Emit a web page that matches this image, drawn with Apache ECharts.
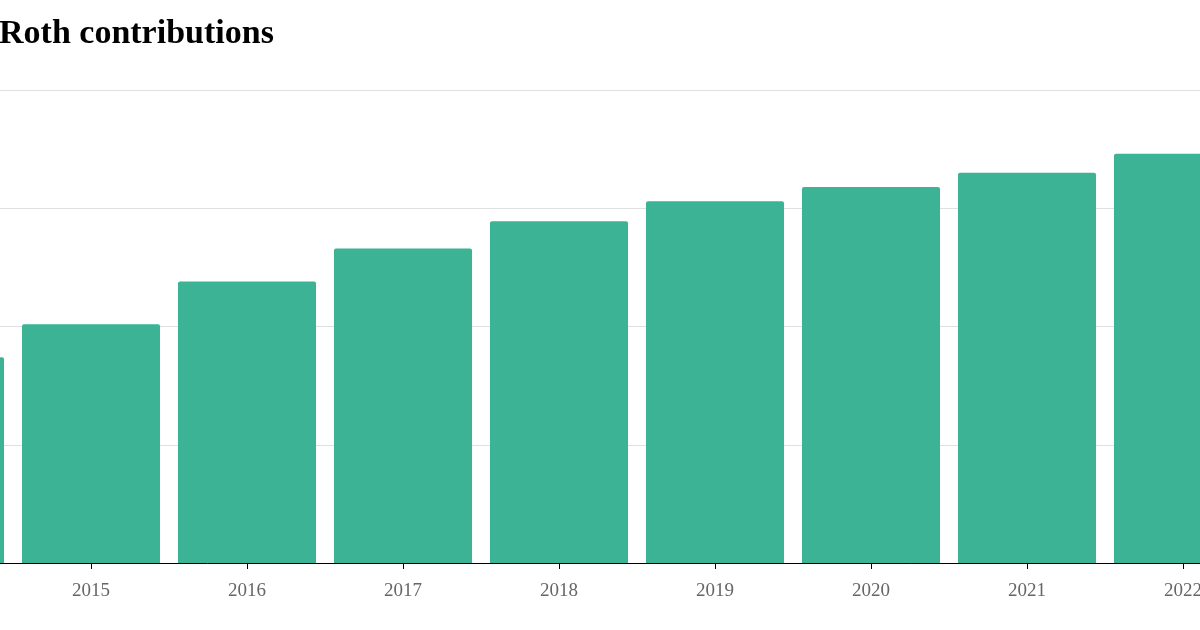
<!DOCTYPE html>
<html>
<head>
<meta charset="utf-8">
<script src="https://cdn.jsdelivr.net/npm/echarts@6/dist/echarts.min.js"></script>
<style>
  html, body { margin: 0; padding: 0; background: #fff; overflow: hidden; width: 1200px; height: 630px; }
  /* the original is cropped on both sides, so the chart is wider than the window */
  #chart { width: 1404px; height: 630px; margin-left: -143px; }
</style>
</head>
<body>
<div id="chart"></div>
<script>
// years and contribution values
const years = ['2014', '2015', '2016', '2017', '2018', '2019', '2020', '2021', '2022'];
const contributions = [1.74, 2.02, 2.38, 2.66, 2.89, 3.06, 3.18, 3.30, 3.46];
const yTicks = [0, 1, 2, 3, 4];

const chart = echarts.init(document.getElementById('chart'));

chart.setOption({
  animation: false,
  title: {
    text: 'Roth contributions',
    left: 137,
    top: 12,
    textStyle: { fontFamily: 'Liberation Serif', fontWeight: 'bold', fontSize: 34, color: '#000' }
  },
  grid: { left: 0, right: 0, top: 90, bottom: 67, containLabel: false },
  xAxis: {
    type: 'category',
    data: years,
    axisLine: { lineStyle: { color: '#000', width: 1 } },
    axisTick: { show: true, alignWithLabel: true, length: 6, lineStyle: { color: '#000' } },
    axisLabel: { fontFamily: 'Liberation Serif', fontSize: 19, color: '#666', margin: 19 }
  },
  yAxis: {
    type: 'value',
    min: yTicks[0],
    max: yTicks[yTicks.length - 1],
    interval: 1,
    axisLabel: { show: false },
    axisLine: { show: false },
    axisTick: { show: false },
    splitLine: { lineStyle: { color: '#e0e0e0', width: 1 } }
  },
  series: [{
    type: 'bar',
    data: contributions,
    barCategoryGap: '11.5%',
    itemStyle: { color: '#3cb394', borderRadius: [2, 2, 0, 0] }
  }]
});
</script>
</body>
</html>
